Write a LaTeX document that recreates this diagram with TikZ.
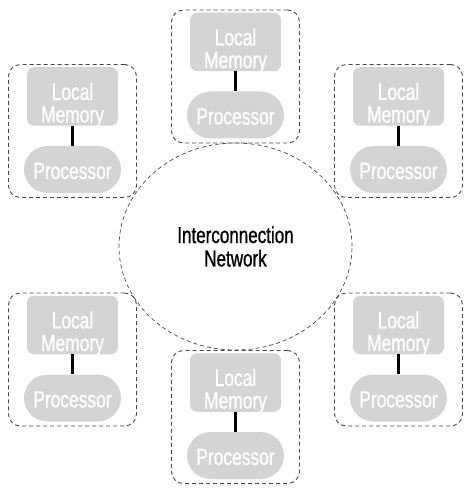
\documentclass[tikz,border=0pt]{standalone}
\usepackage{fontspec}
\setmainfont{Liberation Sans}
\newfontfamily\condfont[FakeStretch=0.74,FakeBold=1]{Liberation Sans}
\usetikzlibrary{shapes.geometric,shapes.misc}
\definecolor{boxfill}{RGB}{212,212,212}
\definecolor{dashgray}{RGB}{70,70,70}
\tikzset{
  grp/.style={draw=dashgray, line width=0.9pt, dash pattern=on 4pt off 3pt,
    rounded corners=12pt, minimum width=128pt, minimum height=133pt, inner sep=0pt},
  mem/.style={fill=boxfill, rounded corners=7pt, minimum width=91pt,
    minimum height=58.5pt, inner sep=0pt, text=white,
    font=\condfont\fontsize{23.5}{21.5}\selectfont},
  proc/.style={fill=boxfill, rounded rectangle, minimum width=97pt,
    minimum height=47pt, inner sep=0pt, text=white,
    font=\condfont\fontsize{23.5}{23}\selectfont},
  link/.style={line width=3pt, draw=black},
  net/.style={ellipse, draw=dashgray, line width=0.7pt, dash pattern=on 4pt off 3pt,
    minimum width=233pt, minimum height=207pt, inner sep=0pt, align=center,
    font=\condfont\fontsize{23}{23.4}\selectfont}
}
\newcommand\memtext{\raisebox{-9.5pt}[\height][\depth]{\begin{tabular}{@{}c@{}}Local\\Memory\end{tabular}}}
\newcommand\proctext{\raisebox{-1.5pt}[\height][\depth]{Processor}}
\newcommand\pmunit[3]{%
  \node[grp] (g#1) at (#2,#3) {};
  \node[mem] (m#1) at (#2,#3-34.5) {\memtext};
  \node[proc] (p#1) at (#2,#3+38.5) {\proctext};
  \draw[link] (m#1) -- (p#1);
}
\begin{document}
\begin{tikzpicture}[x=1pt,y=-1pt]
\useasboundingbox (0,0) rectangle (474,494);
\node[net] (net) at (235.5,246.5) {Interconnection\\Network};
\pmunit{tl}{72.5}{131}
\pmunit{t}{235.5}{76.5}
\pmunit{tr}{398.5}{131}
\pmunit{bl}{72.5}{359.5}
\pmunit{br}{398.5}{359.5}
\pmunit{b}{235.5}{417}
\end{tikzpicture}
\end{document}
